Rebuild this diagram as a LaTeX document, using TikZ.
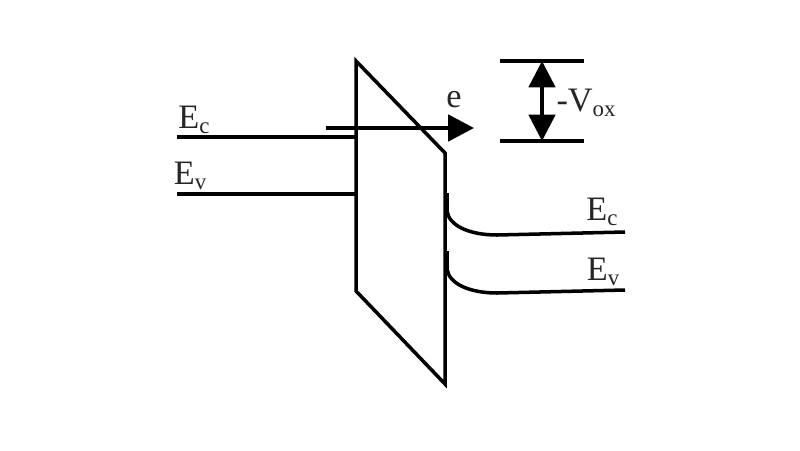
\documentclass[tikz,border=0pt]{standalone}
\usepackage{fontspec}
\setmainfont{Liberation Serif}
\usetikzlibrary{arrows.meta}
\newcommand{\lvl}[2]{#1\raisebox{-2.5pt}{\fontsize{13}{13}\selectfont #2}}
\tikzset{
  band/.style={line width=2pt,black},
  lbl/.style={inner sep=0pt,font=\fontsize{19.5}{20}\selectfont,black!85},
  bigtip/.style={band,-{Triangle[length=14.7pt,width=15pt]}},
  bothtip/.style={band,{Triangle[length=15pt,width=15pt]}-{Triangle[length=15pt,width=15pt]}}
}
\begin{document}
\begin{tikzpicture}[x=0.02cm,y=-0.02cm]
   \useasboundingbox (0,0) rectangle (800,450);
   % oxide barrier
   \coordinate (b1) at (356,61);
   \coordinate (b2) at (445,153);
   \coordinate (b3) at (445,384);
   \coordinate (b4) at (356,291);
   \draw[band,line join=miter] (b1) -- (b2) -- (b3) -- (b4) -- cycle;
   % left bands
   \coordinate (lc) at (177,137);
   \coordinate (lce) at (356,137);
   \coordinate (lv) at (177,194);
   \coordinate (lve) at (356,194);
   \draw[band] (lc) -- (lce);
   \draw[band] (lv) -- (lve);
   % electron
   \coordinate (es) at (326,128);
   \coordinate (ee) at (474,128);
   \draw[bigtip] (es) -- (ee);
   % right bands
   \coordinate (rc) at (447,193);
   \coordinate (rcm) at (497,235);
   \coordinate (rce) at (625,232);
   \coordinate (rv) at (447,251);
   \coordinate (rvm) at (497,293);
   \coordinate (rve) at (625,290);
   \draw[band] (rc) -- (447,211) .. controls (449,226) and (470,235) .. (rcm) -- (rce);
   \draw[band] (rv) -- (447,269) .. controls (449,284) and (470,293) .. (rvm) -- (rve);
   % voltage
   \coordinate (t1) at (500,61);
   \coordinate (t2) at (584,61);
   \coordinate (u1) at (500,141);
   \coordinate (u2) at (584,141);
   \coordinate (ta) at (542,61);
   \coordinate (ua) at (542,141);
   \draw[band] (t1) -- (t2);
   \draw[band] (u1) -- (u2);
   \draw[bothtip] (ta) -- (ua);
   % labels
   \node[lbl] (ecl) at (194,120) {\lvl{E}{c}};
   \node[lbl] (evl) at (190,176) {\lvl{E}{v}};
   \node[lbl] (ecr) at (602,212) {\lvl{E}{c}};
   \node[lbl] (evr) at (603,272) {\lvl{E}{v}};
   \node[lbl] (e) at (454,100) {e};
   \node[lbl] (vox) at (586,103) {-V\raisebox{-2.5pt}{\fontsize{13}{13}\selectfont ox}};
\end{tikzpicture}
\end{document}
